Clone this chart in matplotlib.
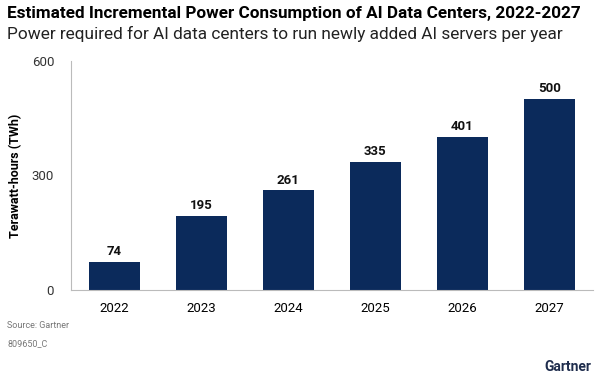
import matplotlib
matplotlib.use("Agg")
from matplotlib import pyplot as plt

years = ["2022", "2023", "2024", "2025", "2026", "2027"]
twh = [74, 195, 261, 335, 401, 500]
yticks = [0, 300, 600]

plt.rcParams['font.family'] = ['Roboto', 'DejaVu Sans']

fig = plt.figure(figsize=(6, 3.81), dpi=100)
ax = fig.add_axes([0.118, 0.239, 0.87, 0.601])

x = range(len(years))
bars = ax.bar(x, twh, width=0.59, color='#0b2a5b')
for xi, v in zip(x, twh):
    ax.text(xi, v + 10, str(v), ha='center', va='bottom', fontsize=9.5, fontweight='bold', color='#111111')

ax.set_xlim(-0.5, 5.5)
ax.set_ylim(0, 600)
ax.set_xticks(list(x))
ax.set_xticklabels(years, fontsize=9.5)
ax.set_yticks(yticks)
ax.set_yticklabels([str(t) for t in yticks], fontsize=9.5, color='#333333')
ax.tick_params(axis='x', length=0, pad=9)
ax.tick_params(axis='y', length=0, pad=12)
for s in ['top', 'right']:
    ax.spines[s].set_visible(False)
ax.spines['left'].set_color('#bbbbbb')
ax.spines['bottom'].set_color('#bbbbbb')
ax.set_ylabel('Terawatt-hours (TWh)', fontsize=9, fontweight='bold', labelpad=7)

fig.text(0.012, 0.965, 'Estimated Incremental Power Consumption of AI Data Centers, 2022-2027',
         fontsize=12.3, fontweight='bold', va='center', ha='left')
fig.text(0.012, 0.91, 'Power required for AI data centers to run newly added AI servers per year',
         fontsize=12.4, va='center', ha='left', color='#222222')
fig.text(0.012, 0.145, 'Source: Gartner', fontsize=6.5, color='#777777', va='center')
fig.text(0.012, 0.098, '809650_C', fontsize=6.5, color='#777777', va='center')
fig.text(0.985, 0.038, 'Gartner', fontsize=10, fontweight='bold', color='#1f2d4d', ha='right', va='center')

fig.savefig('out.png', dpi=100)
